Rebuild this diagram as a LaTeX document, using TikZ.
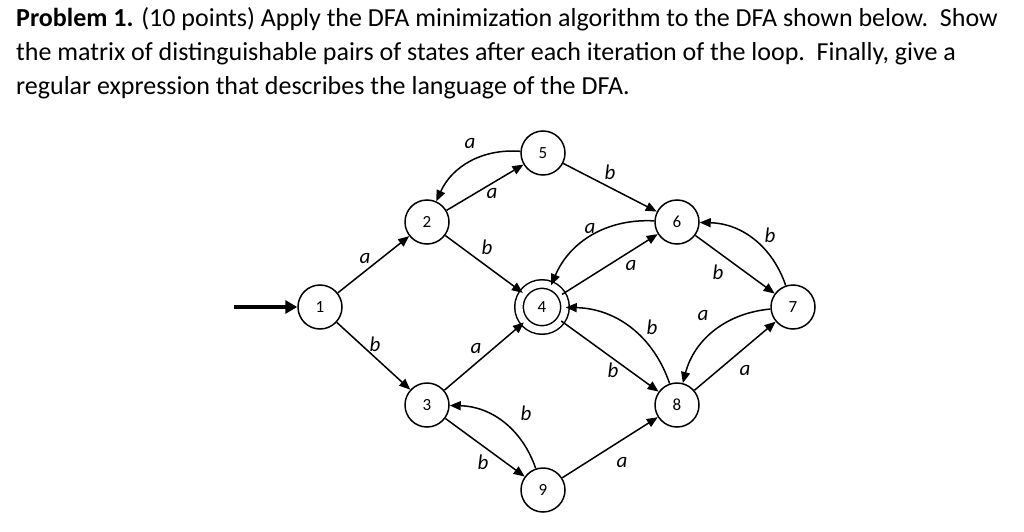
\documentclass[tikz,border=0pt]{standalone}
\usepackage{fontspec}
\setmainfont{Carlito}
\usetikzlibrary{arrows.meta}
\begin{document}
\begin{tikzpicture}[x=1pt,y=-1pt,
 st/.style={circle,draw,line width=1.5pt,minimum size=44pt,inner sep=0pt,font=\fontsize{17}{17}\selectfont},
 tr/.style={-{Triangle[length=11pt,width=9pt]},line width=1.5pt},
 lab/.style={font=\fontsize{21}{21}\selectfont\itshape}]
\useasboundingbox (0,0) rectangle (1024,532);
\node[anchor=north west,align=left,font=\fontsize{26}{34}\selectfont,inner sep=0pt] (txt) at (16,7)
 {\textbf{Problem 1.} (10 points) Apply the DFA minimization algorithm to the DFA shown below.\ \ Show\\
 the matrix of distinguishable pairs of states after each iteration of the loop.\ \ Finally, give a\\
 regular expression that describes the language of the DFA.};
\node[st] (1) at (320,307) {1};
\node[st] (2) at (427,222) {2};
\node[st] (3) at (427,405) {3};
\node[st,double,double distance=7pt,minimum size=46pt] (4) at (542,307) {4};
\node[st] (5) at (543,153) {5};
\node[st] (6) at (677,222) {6};
\node[st] (7) at (793,307) {7};
\node[st] (8) at (677,405) {8};
\node[st] (9) at (543,490) {9};
\coordinate (s) at (234,307);
\draw[-{Triangle[length=12pt,width=13pt]},line width=3.5pt] (s) -- (1);
\draw[tr] (1) -- (2) node[lab] at (365,258) {a};
\draw[tr] (1) -- (3) node[lab] at (375,344) {b};
\draw[tr] (2) -- (5) node[lab] at (492,193) {a};
\draw[tr] (5) to[bend right=35] (2) node[lab] at (470,143) {a};
\draw[tr] (2) -- (4) node[lab] at (487,247) {b};
\draw[tr] (3) -- (4) node[lab] at (476,348) {a};
\draw[tr] (5) -- (6) node[lab] at (610,172) {b};
\draw[tr] (4) -- (6) node[lab] at (631,265) {a};
\draw[tr] (6) to[bend right=35] (4) node[lab] at (590,228) {a};
\draw[tr] (6) -- (7) node[lab] at (718,272) {b};
\draw[tr] (7) to[bend right=35] (6) node[lab] at (770,235) {b};
\draw[tr] (8) -- (7) node[lab] at (745,370) {a};
\draw[tr] (7) to[bend right=35] (8) node[lab] at (703,315) {a};
\draw[tr] (4) -- (8) node[lab] at (613,370) {b};
\draw[tr] (8) to[bend right=35] (4) node[lab] at (652,327) {b};
\draw[tr] (3) -- (9) node[lab] at (483,462) {b};
\draw[tr] (9) to[bend right=35] (3) node[lab] at (526,413) {b};
\draw[tr] (9) -- (8) node[lab] at (622,462) {a};
\end{tikzpicture}
\end{document}
